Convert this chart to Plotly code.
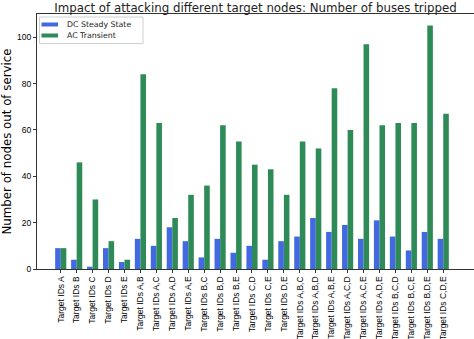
import plotly.graph_objects as go

categories = [
    "Target IDs A", "Target IDs B", "Target IDs C", "Target IDs D", "Target IDs E",
    "Target IDs A,B", "Target IDs A,C", "Target IDs A,D", "Target IDs A,E",
    "Target IDs B,C", "Target IDs B,D", "Target IDs B,E", "Target IDs C,D",
    "Target IDs C,E", "Target IDs D,E", "Target IDs A,B,C", "Target IDs A,B,D",
    "Target IDs A,B,E", "Target IDs A,C,D", "Target IDs A,C,E", "Target IDs A,D,E",
    "Target IDs B,C,D", "Target IDs B,C,E", "Target IDs B,D,E", "Target IDs C,D,E",
]
dc_steady = [9, 4, 1, 9, 3, 13, 10, 18, 12, 5, 13, 7, 10, 4, 12,
             14, 22, 16, 19, 13, 21, 14, 8, 16, 13]
ac_transient = [9, 46, 30, 12, 4, 84, 63, 22, 32, 36, 62, 55, 45, 43, 32,
                55, 52, 78, 60, 97, 62, 63, 63, 105, 67]
y_ticks = [0, 20, 40, 60, 80, 100]
series_names = ["DC Steady State", "AC Transient"]
series_colors = ["#4169E1", "#2E8B57"]

font = "DejaVu Sans"
tick_font = "Liberation Sans"
W, H = 474, 339
L, R, T, B = 37, 0, 14, 70
pw, ph = W - L - R, H - T - B


def px_x(x):
    return (x - L) / pw


def px_y(y):
    return (H - B - y) / ph


fig = go.Figure()
for name, vals, col in zip(series_names, [dc_steady, ac_transient], series_colors):
    fig.add_trace(go.Bar(x=categories, y=vals, name=name,
                         marker=dict(color=col, line=dict(width=0))))

# compact legend box drawn in the upper-left corner of the axes
shapes = [dict(type="rect", xref="paper", yref="paper",
               x0=px_x(39.5), x1=px_x(143), y0=px_y(43.5), y1=px_y(17),
               line=dict(color="#d0d0d0", width=1), fillcolor="white", layer="above")]
annotations = []
for i, (name, col) in enumerate(zip(series_names, series_colors)):
    cy = 24.5 + i * 11
    shapes.append(dict(type="rect", xref="paper", yref="paper",
                       x0=px_x(41.5), x1=px_x(58), y0=px_y(cy + 2), y1=px_y(cy - 2),
                       line=dict(width=0), fillcolor=col, layer="above"))
    annotations.append(dict(text=name, xref="paper", yref="paper",
                            x=px_x(64.5), y=px_y(cy), xanchor="left", yanchor="middle",
                            showarrow=False, font=dict(size=7.8, color="#222")))

fig.update_layout(
    width=W, height=H,
    margin=dict(l=L, r=R, t=T, b=B),
    paper_bgcolor="white", plot_bgcolor="white",
    barmode="group", bargap=0.3, bargroupgap=0,
    font=dict(family=font, color="black"),
    title=dict(text="Impact of attacking different target nodes: Number of buses tripped",
               x=0.539, xanchor="center", y=1 - 7.5 / H, yanchor="middle",
               font=dict(size=11.8, color="#222")),
    showlegend=False,
    shapes=shapes,
    annotations=annotations,
    xaxis=dict(
        type="category", range=[-1.49, 25.93], automargin=False,
        showline=True, linecolor="#333", linewidth=1, mirror=True,
        ticks="outside", ticklen=3, tickcolor="#333",
        tickangle=-90, tickfont=dict(size=8.5, family=tick_font), showgrid=False,
    ),
    yaxis=dict(
        range=[0, 110], tickvals=y_ticks, automargin=False,
        showline=True, linecolor="#333", linewidth=1,
        ticks="outside", ticklen=3, tickcolor="#333",
        tickfont=dict(size=8.5, family=tick_font), showgrid=False, zeroline=False,
        title=dict(text="Number of nodes out of service", font=dict(size=11.8), standoff=4),
    ),
)

fig.write_html("out.html")
